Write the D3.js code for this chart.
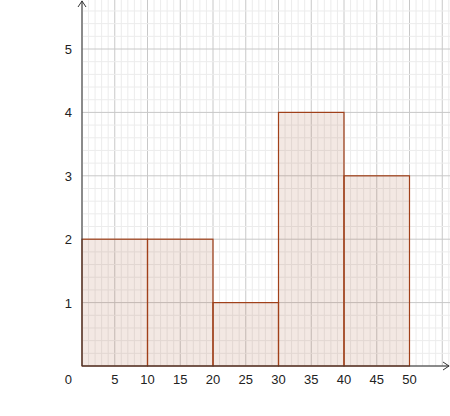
<!DOCTYPE html><html><head><meta charset="utf-8"><script src="https://cdn.jsdelivr.net/npm/d3@7"></script>
<style>body{margin:0;background:#fff}</style></head><body><svg id="c" width="450" height="416"></svg><script>
const binStarts=[0,10,20,30,40];
const binEnds=[10,20,30,40,50];
const counts=[2,2,1,4,3];
const xTicks=[5,10,15,20,25,30,35,40,45,50];
const yTicks=[1,2,3,4,5];
const svg=d3.select("#c");
const x=d3.scaleLinear().domain([0,10]).range([82,147.5]);
const y=d3.scaleLinear().domain([0,1]).range([366,302.6]);
const xMax=x.invert(450), yMax=y.invert(0);
const g=svg.append("g");
for(let v=0;v<=xMax;v+=1){const major=v%5===0;g.append("line").attr("x1",x(v)).attr("x2",x(v)).attr("y1",0).attr("y2",366).attr("stroke",major?"#c8c8c8":"#ececec").attr("stroke-width",1);}
for(let i=0;i*0.2<=yMax;i++){const v=i*0.2;const major=i%5===0;g.append("line").attr("x1",82).attr("x2",450).attr("y1",y(v)).attr("y2",y(v)).attr("stroke",major?"#c8c8c8":"#ececec");}
svg.selectAll("rect.b").data(counts).enter().append("rect").attr("x",(d,i)=>x(binStarts[i])).attr("width",(d,i)=>x(binEnds[i])-x(binStarts[i])).attr("y",d=>y(d)).attr("height",d=>y(0)-y(d)).attr("fill","rgba(160,64,26,0.12)").attr("stroke","#a0401a").attr("stroke-width",1.2);
svg.append("line").attr("x1",82).attr("x2",449).attr("y1",366).attr("y2",366).attr("stroke","#333");
svg.append("line").attr("x1",82).attr("x2",82).attr("y1",366).attr("y2",1).attr("stroke","#333");
svg.append("path").attr("d","M443,362L449,366L443,370").attr("fill","none").attr("stroke","#333");
svg.append("path").attr("d","M78,7L82,1L86,7").attr("fill","none").attr("stroke","#333");
const f="Arial, Liberation Sans, sans-serif";
svg.selectAll("text.x").data(xTicks).enter().append("text").attr("x",d=>x(d)).attr("y",384).attr("text-anchor","middle").attr("font-family",f).attr("font-size",13).attr("fill","#222").text(d=>d);
svg.selectAll("text.y").data(yTicks).enter().append("text").attr("x",72).attr("y",d=>y(d)+5).attr("text-anchor","end").attr("font-family",f).attr("font-size",13).attr("fill","#222").text(d=>d);
svg.append("text").attr("x",72).attr("y",384).attr("text-anchor","end").attr("font-family",f).attr("font-size",13).attr("fill","#222").text("0");
</script></body></html>
